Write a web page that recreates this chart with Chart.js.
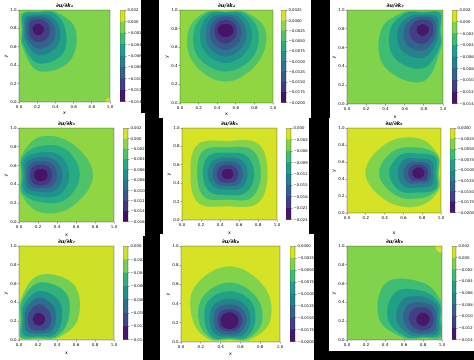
<!DOCTYPE html>
<html><head><meta charset="utf-8">
<script src="https://cdn.jsdelivr.net/npm/chart.js@4/dist/chart.umd.min.js"></script>
<style>
html,body{margin:0;padding:0;background:#000;width:474px;height:360px;overflow:hidden;position:relative}
.box{position:absolute;background:#fff}
</style></head><body>
<script>
// ---------- DATA ----------
const axisTickValues = [0, 0.2, 0.4, 0.6, 0.8, 1.0];
const axisTickLabels = ['0.0','0.2','0.4','0.6','0.8','1.0'];
const titles = ['∂u/∂k₁','∂u/∂k₂','∂u/∂k₃','∂u/∂k₄','∂u/∂k₅','∂u/∂k₆','∂u/∂k₇','∂u/∂k₈','∂u/∂k₉'];

const levels1 = [-0.014,-0.012,-0.010,-0.008,-0.006,-0.004,-0.002,0.000,0.002];
const cbLabels1 = ['−0.014','−0.012','−0.010','−0.008','−0.006','−0.004','−0.002','0.000','0.002'];
const levels2 = [-0.0200,-0.0175,-0.0150,-0.0125,-0.0100,-0.0075,-0.0050,-0.0025,0.0000,0.0025];
const cbLabels2 = ['−0.0200','−0.0175','−0.0150','−0.0125','−0.0100','−0.0075','−0.0050','−0.0025','0.0000','0.0025'];
const levels3 = [-0.014,-0.012,-0.010,-0.008,-0.006,-0.004,-0.002,0.000,0.002];
const cbLabels3 = ['−0.014','−0.012','−0.010','−0.008','−0.006','−0.004','−0.002','0.000','0.002'];
const levels4 = [-0.016,-0.014,-0.012,-0.010,-0.008,-0.006,-0.004,-0.002,0.000,0.002];
const cbLabels4 = ['−0.016','−0.014','−0.012','−0.010','−0.008','−0.006','−0.004','−0.002','0.000','0.002'];
const levels5 = [-0.024,-0.021,-0.018,-0.015,-0.012,-0.009,-0.006,-0.003,0.000];
const cbLabels5 = ['−0.024','−0.021','−0.018','−0.015','−0.012','−0.009','−0.006','−0.003','0.000'];
const levels6 = [-0.0200,-0.0175,-0.0150,-0.0125,-0.0100,-0.0075,-0.0050,-0.0025,0.0000];
const cbLabels6 = ['−0.0200','−0.0175','−0.0150','−0.0125','−0.0100','−0.0075','−0.0050','−0.0025','0.0000'];
const levels7 = [-0.014,-0.012,-0.010,-0.008,-0.006,-0.004,-0.002,0.000];
const cbLabels7 = ['−0.014','−0.012','−0.010','−0.008','−0.006','−0.004','−0.002','0.000'];
const levels8 = [-0.0200,-0.0175,-0.0150,-0.0125,-0.0100,-0.0075,-0.0050,-0.0025,0.0000];
const cbLabels8 = ['−0.0200','−0.0175','−0.0150','−0.0125','−0.0100','−0.0075','−0.0050','−0.0025','0.0000'];
const levels9 = [-0.014,-0.012,-0.010,-0.008,-0.006,-0.004,-0.002,0.000,0.002];
const cbLabels9 = ['−0.014','−0.012','−0.010','−0.008','−0.006','−0.004','−0.002','0.000','0.002'];

// band (index into levels) that fills the rest of the domain
const backgroundBand = [6, 7, 6, 7, 7, 7, 6, 7, 6];

// location (x, y) of each field's minimum
const center1 = [0.21, 0.79];
const center2 = [0.49, 0.78];
const center3 = [0.79, 0.79];
const center4 = [0.23, 0.50];
const center5 = [0.48, 0.50];
const center6 = [0.76, 0.47];
const center7 = [0.21, 0.22];
const center8 = [0.49, 0.22];
const center9 = [0.80, 0.22];

// contour distances from the minimum, at 0°,45°,...,315°, outermost level first
const contours1 = [
  [0.41,0.27,0.195,0.25,0.18,0.25,0.45,0.49],
  [0.30,0.25,0.185,0.23,0.17,0.23,0.37,0.38],
  [0.24,0.20,0.16,0.19,0.15,0.19,0.28,0.28],
  [0.19,0.16,0.14,0.16,0.13,0.16,0.21,0.21],
  [0.13,0.12,0.11,0.12,0.10,0.12,0.14,0.14],
  [0.065,0.06,0.06,0.06,0.06,0.06,0.065,0.065]
];
const contours2 = [
  [0.43,0.29,0.205,0.29,0.40,0.49,0.55,0.49],
  [0.35,0.27,0.20,0.27,0.34,0.41,0.44,0.41],
  [0.28,0.24,0.19,0.24,0.27,0.32,0.35,0.32],
  [0.22,0.20,0.17,0.20,0.21,0.25,0.28,0.25],
  [0.17,0.16,0.15,0.16,0.17,0.19,0.21,0.19],
  [0.12,0.12,0.115,0.12,0.12,0.13,0.14,0.13],
  [0.085,0.08,0.07,0.08,0.085,0.075,0.07,0.075]
];
const contours3 = [
  [0.19,0.27,0.195,0.27,0.435,0.56,0.55,0.27],
  [0.18,0.25,0.185,0.25,0.34,0.42,0.41,0.25],
  [0.16,0.20,0.16,0.20,0.26,0.31,0.30,0.20],
  [0.14,0.16,0.14,0.16,0.20,0.23,0.22,0.16],
  [0.11,0.12,0.11,0.12,0.14,0.15,0.15,0.12],
  [0.065,0.06,0.06,0.06,0.065,0.065,0.065,0.06]
];
const contours4 = [
  [0.55,0.47,0.41,0.29,0.21,0.29,0.40,0.47],
  [0.41,0.38,0.31,0.27,0.20,0.27,0.29,0.37],
  [0.30,0.29,0.24,0.24,0.18,0.24,0.23,0.29],
  [0.23,0.22,0.19,0.20,0.16,0.20,0.18,0.22],
  [0.17,0.17,0.15,0.16,0.14,0.16,0.14,0.17],
  [0.12,0.12,0.11,0.12,0.11,0.12,0.11,0.12],
  [0.07,0.07,0.065,0.07,0.07,0.07,0.065,0.07]
];
const contours5 = [
  [0.42,0.46,0.36,0.45,0.39,0.44,0.35,0.45],
  [0.35,0.37,0.29,0.36,0.32,0.35,0.28,0.36],
  [0.28,0.28,0.23,0.28,0.26,0.27,0.23,0.28],
  [0.21,0.21,0.18,0.21,0.21,0.20,0.17,0.21],
  [0.16,0.16,0.14,0.16,0.16,0.155,0.13,0.16],
  [0.115,0.11,0.10,0.11,0.115,0.11,0.095,0.11],
  [0.06,0.06,0.055,0.06,0.06,0.06,0.055,0.06]
];
const contours6 = [
  [0.22,0.30,0.41,0.49,0.565,0.47,0.39,0.30],
  [0.21,0.29,0.30,0.37,0.42,0.36,0.30,0.28],
  [0.19,0.26,0.23,0.29,0.31,0.29,0.23,0.26],
  [0.16,0.20,0.17,0.22,0.22,0.22,0.17,0.20],
  [0.13,0.15,0.13,0.16,0.16,0.16,0.12,0.15],
  [0.10,0.11,0.10,0.11,0.11,0.11,0.09,0.11],
  [0.065,0.065,0.065,0.065,0.065,0.065,0.065,0.065]
];
const contours7 = [
  [0.41,0.52,0.47,0.28,0.20,0.28,0.21,0.28],
  [0.31,0.40,0.39,0.26,0.19,0.27,0.20,0.26],
  [0.24,0.29,0.30,0.22,0.17,0.23,0.18,0.23],
  [0.18,0.21,0.23,0.18,0.15,0.18,0.15,0.18],
  [0.13,0.14,0.16,0.13,0.12,0.13,0.12,0.13],
  [0.065,0.065,0.07,0.065,0.065,0.065,0.065,0.065]
];
const contours8 = [
  [0.41,0.50,0.57,0.50,0.37,0.28,0.20,0.28],
  [0.33,0.37,0.40,0.37,0.31,0.26,0.19,0.26],
  [0.26,0.30,0.31,0.30,0.25,0.24,0.18,0.24],
  [0.21,0.23,0.23,0.23,0.20,0.20,0.16,0.20],
  [0.17,0.18,0.17,0.18,0.16,0.16,0.14,0.16],
  [0.13,0.13,0.12,0.13,0.12,0.12,0.11,0.12],
  [0.09,0.09,0.09,0.09,0.09,0.09,0.085,0.09]
];
const contours9 = [
  [0.19,0.27,0.39,0.55,0.46,0.28,0.20,0.27],
  [0.18,0.24,0.30,0.41,0.37,0.26,0.19,0.24],
  [0.16,0.21,0.24,0.30,0.28,0.22,0.17,0.21],
  [0.14,0.17,0.18,0.22,0.21,0.18,0.15,0.17],
  [0.11,0.12,0.13,0.15,0.15,0.13,0.12,0.12],
  [0.07,0.07,0.07,0.07,0.07,0.07,0.07,0.07]
];
// small positive corner regions: [panel, band, corner x, corner y, radius]
const cornerPatches = [[0, 7, 1, 0, 0.05], [8, 7, 1, 1, 0.07]];

// ---------- LAYOUT (pixels) ----------
const layout = [
  {box:[0,0,141,118],   plot:[19,10,110,102],  cb:[120,125], xGap:11},
  {box:[159,0,311,118], plot:[180,10,273,103], cb:[281,286], xGap:11},
  {box:[330,0,474,118], plot:[347,10,443,104], cb:[452,457], xGap:13},
  {box:[0,113,145,236], plot:[19,128,114,222], cb:[123,128], xGap:13},
  {box:[163,118,309,234], plot:[182,128,277,220], cb:[286,291], xGap:13},
  {box:[329,118,474,240], plot:[347,128,441,213], cb:[450,455], xGap:20},
  {box:[0,236,143,360], plot:[19,246,114,340], cb:[123,128], xGap:13},
  {box:[160,234,314,360], plot:[181,246,280,342], cb:[290,295], xGap:12},
  {box:[329,236,474,351], plot:[347,246,442,340], cb:[452,456], xGap:13}
];

// ---------- BUILD ----------
const levelSets = [levels1,levels2,levels3,levels4,levels5,levels6,levels7,levels8,levels9];
const labelSets = [cbLabels1,cbLabels2,cbLabels3,cbLabels4,cbLabels5,cbLabels6,cbLabels7,cbLabels8,cbLabels9];
const centers = [center1,center2,center3,center4,center5,center6,center7,center8,center9];
const contourSets = [contours1,contours2,contours3,contours4,contours5,contours6,contours7,contours8,contours9];

const VIR = ['#440154','#482475','#414487','#355f8d','#2a788e','#21918c','#22a884','#44bf70','#7ad151','#bddf26','#fde725'];
function hex(h){return [1,3,5].map(i=>parseInt(h.substr(i,2),16));}
function viridis(t){
  const s=Math.max(0,Math.min(1,t))*10, i=Math.min(9,Math.floor(s)), f=s-i;
  const a=hex(VIR[i]), b=hex(VIR[i+1]);
  const c=a.map((v,k)=>Math.round(v+(b[k]-v)*f));
  return `rgb(${c[0]},${c[1]},${c[2]})`;
}
function bandColor(i,n){return viridis((i+0.5)/n);}

const ANG=[0,45,90,135,180,225,270,315].map(d=>d*Math.PI/180);
function ring(c,radii){return radii.map((r,k)=>({x:c[0]+r*Math.cos(ANG[k]), y:c[1]+r*Math.sin(ANG[k])}));}

Chart.defaults.font.family='"DejaVu Sans", sans-serif';
Chart.defaults.color='#000';

const loopPlugin={id:'closedLoop',afterDatasetUpdate(chart,args){
  const line=args.meta.dataset;
  if(line){line._loop=true;line._fullLoop=true;line._segments=undefined;line._pointsUpdated=false;line._path=undefined;}
}};
const bgPlugin={id:'bandBg',beforeDatasetsDraw(chart,args,opts){
  const a=chart.chartArea,ctx=chart.ctx;ctx.save();ctx.fillStyle=opts.color;ctx.fillRect(a.left,a.top,a.width,a.height);ctx.restore();
}};
const framePlugin={id:'frame',afterDatasetsDraw(chart){
  const a=chart.chartArea,ctx=chart.ctx;ctx.save();ctx.strokeStyle='rgba(0,0,0,0.5)';ctx.lineWidth=0.5;
  ctx.strokeRect(a.left,a.top,a.width,a.height);ctx.restore();
}};

function mk(x,y,w,h){
  const c=document.createElement('canvas');c.width=w;c.height=h;
  c.style.cssText=`position:absolute;left:${x}px;top:${y}px;width:${w}px;height:${h}px`;
  document.body.appendChild(c);return c;
}

layout.forEach(l=>{const d=document.createElement('div');d.className='box';
  d.style.left=l.box[0]+'px';d.style.top=l.box[1]+'px';d.style.width=(l.box[2]-l.box[0])+'px';d.style.height=(l.box[3]-l.box[1])+'px';
  document.body.appendChild(d);});

const TICK=4.0, CBTICK=3.8, YW=16, TITLEH=8, RPAD=5;

layout.forEach((l,p)=>{
  const lv=levelSets[p], n=lv.length-1, bg=backgroundBand[p];
  const [L,T,R,B]=l.plot, xH=l.xGap+3;
  const ds=contourSets[p].map((radii,k)=>{
    const col=bandColor(bg-1-k,n);
    return {data:ring(centers[p],radii),showLine:true,fill:'shape',tension:0.38,pointRadius:0,borderWidth:0,borderColor:col,backgroundColor:col};
  }).reverse();
  cornerPatches.filter(c=>c[0]===p).forEach(c=>{
    const col=bandColor(c[1],n);
    ds.push({data:ring([c[2],c[3]],[c[4],c[4],c[4],c[4],c[4],c[4],c[4],c[4]]),showLine:true,fill:'shape',tension:0.38,pointRadius:0,borderWidth:0,borderColor:col,backgroundColor:col});
  });
  const axisCommon=(isX)=>({
    type:'linear',min:0,max:1,
    afterBuildTicks:s=>{s.ticks=axisTickValues.map(v=>({value:v}));},
    ticks:{callback:(v,i)=>axisTickLabels[i],font:{size:TICK},padding:1,autoSkip:false,maxRotation:0},
    grid:{drawOnChartArea:false,tickLength:1.5,color:'#222',lineWidth:0.4},
    border:{display:false},
    title:{display:true,text:isX?'x':'y',font:{size:4.8},padding:isX?{top:0,bottom:0.2}:{top:0.2,bottom:0}},
    afterFit:isX?(s=>{s.height=xH;}):(s=>{s.width=YW;})
  });
  new Chart(mk(L-YW,T-TITLEH,R-L+YW+RPAD,B-T+TITLEH+xH),{
    type:'scatter',
    data:{datasets:ds},
    options:{responsive:false,animation:false,events:[],
      layout:{padding:{left:0,top:0,right:RPAD,bottom:0}},
      plugins:{legend:{display:false},tooltip:{enabled:false},
        title:{display:true,text:titles[p],fullSize:false,font:{size:5.2,style:'italic'},padding:{top:0.3,bottom:1.5},color:'#000'},
        bandBg:{color:bandColor(bg,n)}},
      scales:{x:axisCommon(true),y:axisCommon(false)}
    },
    plugins:[loopPlugin,bgPlugin,framePlugin]
  });
  // colorbar
  const [cL,cR]=l.cb, CBW=28;
  const bands=[];for(let i=0;i<n;i++)bands.push(i);
  new Chart(mk(cL,T-3,cR-cL+CBW,B-T+6),{
    type:'bar',
    data:{labels:[''],datasets:bands.map(i=>({data:[[lv[i],lv[i+1]]],backgroundColor:bandColor(i,n),borderWidth:0,barPercentage:1,categoryPercentage:1,grouped:false}))},
    options:{responsive:false,animation:false,events:[],
      layout:{padding:{top:3,bottom:3,left:0,right:0}},
      plugins:{legend:{display:false},tooltip:{enabled:false}},
      scales:{x:{display:false},
        y:{position:'right',min:lv[0],max:lv[n],
          afterBuildTicks:s=>{s.ticks=lv.map(v=>({value:v}));},
          ticks:{callback:(v,i)=>labelSets[p][i],font:{size:CBTICK},padding:1,autoSkip:false},
          grid:{drawOnChartArea:false,tickLength:1.5,color:'#222',lineWidth:0.4},
          border:{display:false},
          afterFit:s=>{s.width=CBW;}}}
    },
    plugins:[framePlugin]
  });
});
</script></body></html>
